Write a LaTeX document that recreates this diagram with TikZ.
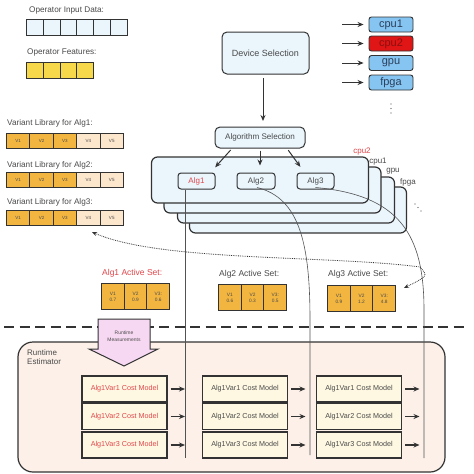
\documentclass[tikz,border=0pt]{standalone}
\usepackage{fontspec}
\setmainfont{Liberation Sans}
\usetikzlibrary{arrows.meta,calc}
\definecolor{ink}{HTML}{333333}
\definecolor{txt}{HTML}{4A4A4A}
\definecolor{redtxt}{HTML}{E0474C}
\definecolor{lblue}{HTML}{EAF5FC}
\definecolor{yel}{HTML}{F7D84B}
\definecolor{orng}{HTML}{F2B540}
\definecolor{pale}{HTML}{FCE6CC}
\definecolor{devblue}{HTML}{86C5F2}
\definecolor{devtxt}{HTML}{2B3F5A}
\definecolor{devred}{HTML}{E01515}
\definecolor{darkred}{HTML}{8B1010}
\definecolor{pinkf}{HTML}{F7D8F2}
\definecolor{peach}{HTML}{FCF0E8}
\definecolor{cream}{HTML}{FEF8E2}
\newcommand{\fs}[1]{\fontsize{#1}{#1}\selectfont}
\begin{document}
\begin{tikzpicture}[x=1pt,y=-1pt,
  lbl/.style={font=\fs{8.2}, text=txt, anchor=west, inner sep=0},
  cell/.style={draw=ink, line width=0.9pt, minimum width=16.83pt, minimum height=16pt, inner sep=0, anchor=north west},
  vcell/.style={draw=ink, line width=0.9pt, minimum width=23.4pt, minimum height=15pt, inner sep=0, anchor=north west, font=\fs{4.5}, text=txt},
  acell/.style={draw=ink, line width=1pt, fill=orng, minimum width=22.7pt, minimum height=26pt, inner sep=0, anchor=north west, font=\fs{4.8}, text=txt, align=center},
  rbox/.style={draw=ink, line width=1pt, rounded corners=5pt, fill=lblue, text=txt, inner sep=0},
  devbox/.style={draw=ink, line width=0.9pt, rounded corners=2.5pt, fill=devblue, text=devtxt, minimum width=44pt, minimum height=15pt, inner sep=0, font=\fs{11}},
  stackbox/.style={draw=ink, line width=1.2pt, rounded corners=6pt, fill=lblue, minimum width=217pt, minimum height=46pt, inner sep=0},
  algbox/.style={draw=ink, line width=1pt, rounded corners=3pt, fill=lblue, text=txt, minimum width=37pt, minimum height=16pt, inner sep=0, font=\fs{8}},
  costbox/.style={draw=ink, line width=1.2pt, fill=cream, text=txt, minimum width=85pt, minimum height=26pt, inner sep=0, font=\fs{7.2}},
  arr/.style={-{Stealth[length=6pt,width=5pt]}, draw=ink, line width=1pt},
  wire/.style={draw=ink!85, line width=0.6pt},
  dotf/.style={fill=txt, draw=none},
]
\useasboundingbox (0,0) rectangle (474,474);
\fill[white] (0,0) rectangle (474,474);

% ---------- top left legends
\node[lbl] (tin) at (29,10) {Operator Input Data:};
\foreach \i in {0,...,5} \node[cell, fill=lblue] (in\i) at ({26+\i*16.83},19) {};
\node[lbl] (tft) at (27,52) {Operator Features:};
\foreach \i in {0,...,3} \node[cell, fill=yel] (ft\i) at ({26+\i*16.83},62) {};

% ---------- device selection
\node[rbox, minimum width=87pt, minimum height=42pt, font=\fs{9}] (dev) at (265.5,53) {Device Selection};
\node[rbox, minimum width=90pt, minimum height=21pt, font=\fs{8.1}] (alg) at (260,137.5) {Algorithm Selection};
\coordinate (dsa) at (263,78);
\coordinate (dsb) at (263,121);
\draw[arr] (dsa) -- (dsb);

% ---------- device list
\node[devbox] (d1) at (391,24.5) {cpu1};
\node[devbox, fill=devred, text=darkred] (d2) at (391,43.5) {cpu2};
\node[devbox] (d3) at (391,63) {gpu};
\node[devbox] (d4) at (391,82.5) {fpga};
\foreach \d/\y in {d1/24.5,d2/43.5,d3/63,d4/82.5}{
  \coordinate (s\d) at (342,\y);
  \draw[arr, shorten >=5pt] (s\d) -- (\d.west);
}
\foreach \t in {104,108.5,113} \fill[dotf] (391,\t) circle (0.7);

% ---------- variant libraries
\foreach \r/\ly/\cy in {1/123/133,2/165/172,3/202/210}{
  \node[lbl] (vl\r) at (7,\ly) {Variant Library for Alg\r:};
  \foreach \k in {1,2,3}
    \node[vcell, fill=orng] (v\r\k) at ({6+(\k-1)*23.4},\cy) {V\k};
  \foreach \k in {4,5}
    \node[vcell, fill=pale] (v\r\k) at ({6+(\k-1)*23.4},\cy) {V\k};
}

% ---------- runtime estimator background
\node[draw=ink, line width=1.2pt, fill=peach, rounded corners=15pt, minimum width=427pt, minimum height=130pt, inner sep=0] (rte) at (231.5,407) {};
\node[font=\fs{8}, text=txt, anchor=north west, align=left, inner sep=0] (rtel) at (27,349) {Runtime\\[1pt]Estimator};

% ---------- dashed separator
\coordinate (dl) at (4,327);
\coordinate (dr) at (466,327);
\draw[ink, line width=1.3pt, dash pattern=on 10pt off 5.5pt] (dl) -- (dr);

% ---------- runtime measurements arrow
\filldraw[fill=pinkf, draw=ink, line width=1pt] (98,319) -- (150,319) -- (150,349) -- (158,349) -- (124,366) -- (89,349) -- (98,349) -- cycle;
\node[font=\fs{5}, text=txt, align=center, inner sep=0] (rm) at (124,336) {Runtime\\[1.5pt]Measurements};

% ---------- active sets
\node[lbl, text=redtxt, font=\fs{8.5}] (as1) at (102,273) {Alg1 Active Set:};
\node[lbl, font=\fs{8.5}] (as2) at (219,274) {Alg2 Active Set:};
\node[lbl, font=\fs{8.5}] (as3) at (328,274) {Alg3 Active Set:};
\foreach \s/\x/\y/\a/\b/\c in {1/101/283/0.7/0.9/0.6, 2/218/284/0.6/0.3/0.5, 3/327/285/0.9/1.2/4.8}{
  \node[acell] (ac\s1) at (\x,\y) {V1\\[1pt]\a};
  \node[acell] (ac\s2) at ({\x+22.7},\y) {V2\\[1pt]\b};
  \node[acell] (ac\s3) at ({\x+45.4},\y) {V3:\\[1pt]\c};
}

% ---------- cost models
\foreach \col/\cx in {1/124.5,2/245,3/359}{
  \foreach \row/\cy in {1/389,2/416.5,3/445}{
    \ifnum\col=1
      \node[costbox, text=redtxt] (c\col\row) at (\cx,\cy) {Alg1Var\row{} Cost Model};
    \else
      \node[costbox] (c\col\row) at (\cx,\cy) {Alg1Var\row{} Cost Model};
    \fi
    \coordinate (q\col\row) at ({\cx+42.5+18},\cy);
    \draw[arr, line width=1.1pt, shorten <=3pt] (c\col\row.east) -- (q\col\row);
  }
}

% ---------- device stack
\node[stackbox] (k4) at (298,210) {};
\node[stackbox] (k3) at (286,200) {};
\node[stackbox] (k2) at (272.5,190) {};
\node[stackbox] (k1) at (260,180) {};
\node[font=\fs{8}, text=redtxt, inner sep=0] (lk1) at (362,152) {cpu2};
\node[font=\fs{8}, text=txt, inner sep=0] (lk2) at (378,162) {cpu1};
\node[font=\fs{8}, text=txt, inner sep=0] (lk3) at (393,171) {gpu};
\node[font=\fs{8}, text=txt, inner sep=0] (lk4) at (408,182) {fpga};
\foreach \u/\v in {415/204,418/207.5,421/211} \fill[dotf] (\u,\v) circle (0.6);

\node[algbox, text=redtxt] (a1) at (196.5,181) {Alg1};
\node[algbox, minimum width=38pt] (a2) at (256,181) {Alg2};
\node[algbox] (a3) at (315.5,181) {Alg3};

\draw[arr, shorten <=2pt, shorten >=7pt] ([xshift=-28pt]alg.south) -- ([xshift=14pt]a1.north);
\draw[arr, shorten <=2pt, shorten >=7pt] (alg.south) -- (alg.south |- a2.north);
\draw[arr, shorten <=2pt, shorten >=7pt] ([xshift=27pt]alg.south) -- ([xshift=-11pt]a3.north);

% ---------- wires from algorithms
\coordinate (e1) at (185,458);
\coordinate (e2) at (310,455);
\coordinate (e3) at (424,458);
\draw[wire] ([xshift=-11.5pt]a1.south) -- (e1);
\draw[wire] ([xshift=1pt,yshift=2pt]a2.south) .. controls (300,198) and (310,245) .. (310,320) -- (e2);
\draw[wire] ([yshift=2pt]a3.south) .. controls (400,195) and (424,235) .. (424,310) -- (e3);

% ---------- dotted feedback
\coordinate (fb1) at (92,232);
\coordinate (fb2) at (404,288);
\draw[densely dotted, draw=ink, line width=0.8pt, {Stealth[length=5pt,width=4pt]}-{Stealth[length=5pt,width=4pt]}]
  (fb1) .. controls (160,262) and (330,255) .. (420,267) .. controls (428,276) .. (fb2);
\end{tikzpicture}
\end{document}
